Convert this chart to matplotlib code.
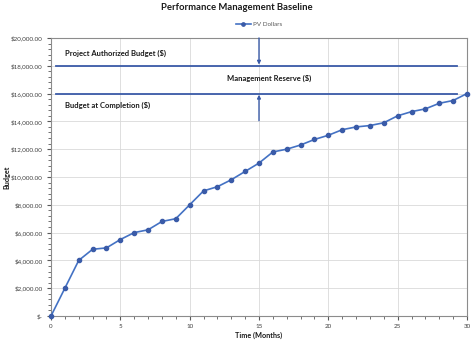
import matplotlib
matplotlib.use("Agg")
import matplotlib.pyplot as plt
from matplotlib.ticker import MultipleLocator, FuncFormatter

plt.rcParams['font.family'] = ['Lato', 'DejaVu Sans']

months = list(range(31))
pv_dollars = [0, 2000, 4000, 4800, 4900, 5500, 6000, 6200, 6800, 7000,
              8000, 9000, 9300, 9800, 10400, 11000, 11800, 12000, 12300, 12700,
              13000, 13400, 13600, 13700, 13900, 14400, 14700, 14900, 15300, 15500,
              16000]
authorized_budget = 18000
budget_at_completion = 16000
line_span = [0.35, 29.25]
arrow_month = 15

blue = '#4472C4'
dark_blue = '#3A5BA8'

fig = plt.figure(figsize=(4.74, 3.42), dpi=100)
ax = fig.add_axes([0.1076, 0.076, 0.8776, 0.813])

ax.plot(months, pv_dollars, color=blue, lw=1.2, marker='o', ms=3.0,
        mfc=dark_blue, mec=dark_blue, label='PV Dollars', zorder=3, clip_on=False)

ax.plot(line_span, [authorized_budget] * 2, color=dark_blue, lw=1.3, zorder=2)
ax.plot(line_span, [budget_at_completion] * 2, color=dark_blue, lw=1.3, zorder=2)

ax.annotate('', xy=(arrow_month, authorized_budget + 80), xytext=(arrow_month, 20000),
            arrowprops=dict(arrowstyle='-|>', color=dark_blue, lw=1.0,
                            mutation_scale=5, shrinkA=0, shrinkB=0))
ax.annotate('', xy=(arrow_month, budget_at_completion - 80), xytext=(arrow_month, 14050),
            arrowprops=dict(arrowstyle='-|>', color=dark_blue, lw=1.0,
                            mutation_scale=5, shrinkA=0, shrinkB=0))

ax.text(1.0, 18890, 'Project Authorized Budget ($)', fontsize=5.5, fontweight='bold',
        ha='left', va='center', color='#1a1a1a')
ax.text(15.7, 17090, 'Management Reserve ($)', fontsize=5.5, fontweight='bold',
        ha='center', va='center', color='#1a1a1a')
ax.text(1.0, 15160, 'Budget at Completion ($)', fontsize=5.5, fontweight='bold',
        ha='left', va='center', color='#1a1a1a')

ax.set_xlim(0, 30)
ax.set_ylim(0, 20000)
ax.xaxis.set_major_locator(MultipleLocator(5))
ax.xaxis.set_minor_locator(MultipleLocator(1))
ax.yaxis.set_major_locator(MultipleLocator(2000))
ax.yaxis.set_minor_locator(MultipleLocator(400))

def money(v, pos):
    if v == 0:
        return '$-'
    return '${:,.2f}'.format(v)

ax.yaxis.set_major_formatter(FuncFormatter(money))
ax.tick_params(axis='both', which='major', labelsize=4.5, colors='#595959',
               length=3, direction='out', pad=3)
ax.tick_params(axis='both', which='minor', length=2, colors='#595959')
ax.tick_params(axis='both', which='both', labelcolor='#404040')

ax.grid(True, which='major', color='#D9D9D9', lw=0.6)
ax.set_axisbelow(True)
for s in ax.spines.values():
    s.set_color('#8C8C8C')
    s.set_linewidth(0.8)

ax.set_xlabel('Time (Months)', fontsize=5.2, fontweight='bold', color='#1a1a1a', labelpad=2)
ax.set_ylabel('Budget', fontsize=5.2, fontweight='bold', color='#1a1a1a')
ax.yaxis.set_label_coords(-0.098, 0.5)

fig.text(0.5, 0.978, 'Performance Management Baseline', ha='center', va='center',
         fontsize=6.8, fontweight='bold', color='#1a1a1a')

leg = ax.legend(loc='center', bbox_to_anchor=(0.5, 1.05), frameon=False, fontsize=4.5,
                handlelength=2.4, handletextpad=0.3, borderaxespad=0, markerscale=0.8)
for t in leg.get_texts():
    t.set_color('#595959')

fig.savefig('out.png', dpi=100)
